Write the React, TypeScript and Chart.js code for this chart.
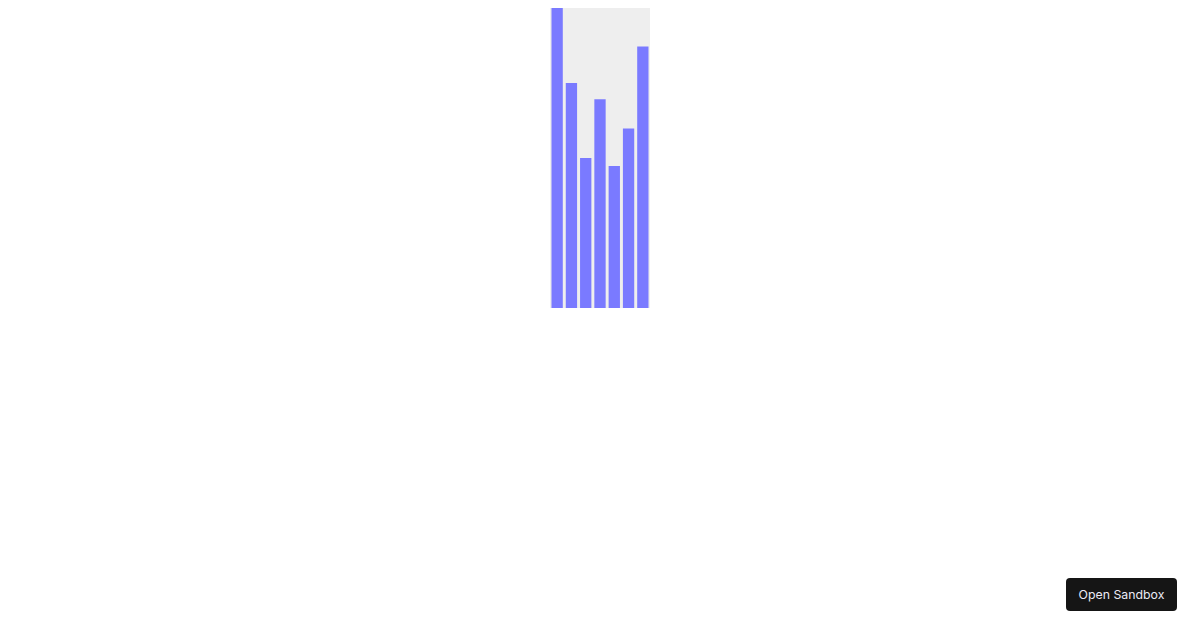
import React, { useEffect, useRef } from "react";
import { Chart, registerables } from "chart.js";

Chart.register(...registerables);

const categories = ["1", "2", "3", "4", "5", "6", "7"];
const values = [100, 75, 50, 69.6, 47.3, 59.8, 87.2];

export default function App() {
  const ref = useRef<HTMLCanvasElement | null>(null);

  useEffect(() => {
    if (!ref.current) return;
    const chart = new Chart(ref.current, {
      type: "bar",
      data: {
        labels: categories,
        datasets: [
          {
            data: values,
            backgroundColor: "rgb(122,122,255)",
            borderWidth: 0,
            barPercentage: 0.9,
            categoryPercentage: 0.88,
          },
        ],
      },
      options: {
        responsive: false,
        animation: false,
        layout: { padding: 0 },
        plugins: { legend: { display: false }, tooltip: { enabled: false } },
        scales: {
          x: { display: false },
          y: { display: false, min: 0, max: 100 },
        },
      },
    });
    return () => chart.destroy();
  }, []);

  return (
    <div>
      <div style={{ width: 100, height: 300, margin: "0 auto" }}>
        <canvas
          ref={ref}
          width={100}
          height={300}
          style={{ display: "block", background: "#eeeeee", width: 100, height: 300 }}
        />
      </div>
      <div
        style={{
          position: "fixed",
          right: 23,
          bottom: 19,
          width: 111,
          height: 33,
          background: "#151515",
          color: "#ebebf5",
          borderRadius: 4,
          fontFamily: "Inter, sans-serif",
          fontSize: 12.3,
          display: "flex",
          alignItems: "center",
          justifyContent: "center",
        }}
      >
        Open Sandbox
      </div>
    </div>
  );
}
